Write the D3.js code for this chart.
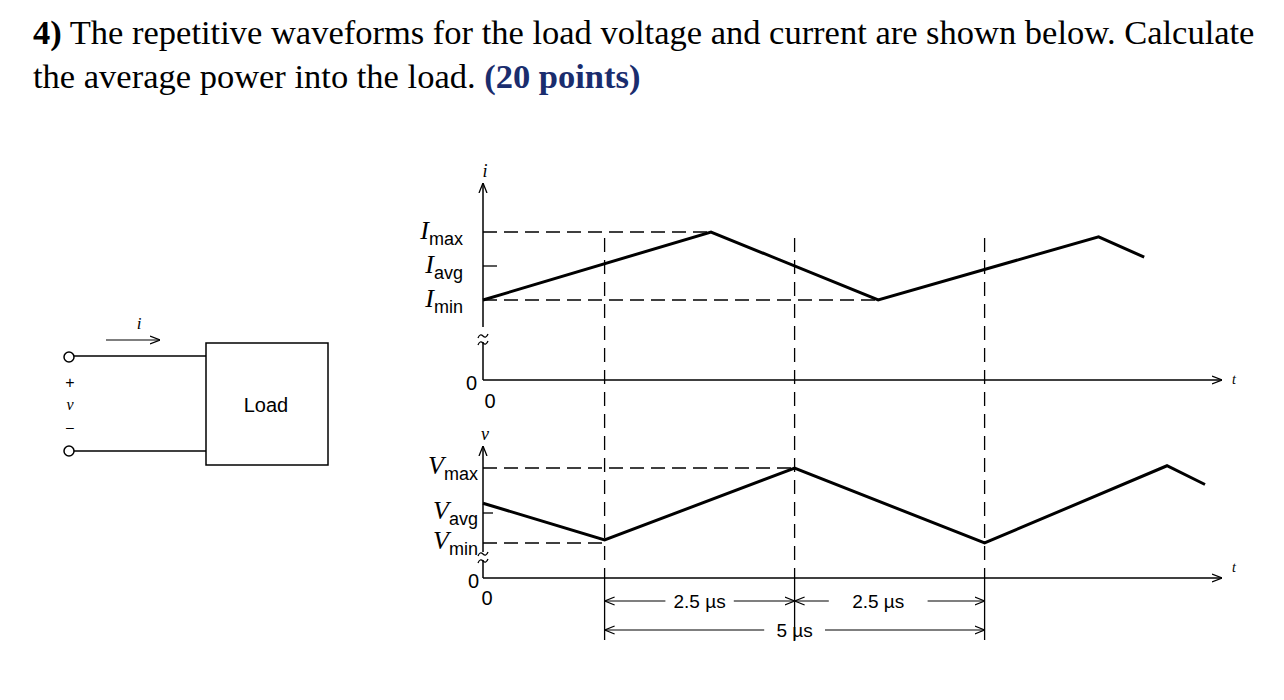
<!DOCTYPE html><html><head><meta charset="utf-8"><script src="https://cdn.jsdelivr.net/npm/d3@7"></script>
<style>body{margin:0;background:#fff}</style></head><body><svg id="c" width="1284" height="700"></svg>
<script>
const currentT=[0,3.0,5.2,8.1,8.7];
const currentV=[0,1,0,0.93,0.63];
const voltageT=[0,1.6,4.1,6.6,9.0,9.5];
const voltageV=[0.53,0.04,1,0,1.03,0.78];
const dashT=[1.6,4.1,6.6];
const iLabels=["max","avg","min"], iLevels=[1,0.5,0];
const vLabels=["max","avg","min"], vLevels=[1,0.4,0];
const svg=d3.select("#c");
const serif="Liberation Serif, Times New Roman, serif", sans="Liberation Sans, Arial, sans-serif";
const t1=svg.append("text").attr("x",33).attr("y",44).attr("font-family",serif).attr("font-size",34.5);
t1.append("tspan").attr("font-weight","bold").text("4)");
t1.append("tspan").text(" The repetitive waveforms for the load voltage and current are shown below. Calculate");
const t2=svg.append("text").attr("x",33).attr("y",88).attr("font-family",serif).attr("font-size",34.5);
t2.append("tspan").text("the average power into the load. ");
t2.append("tspan").attr("font-weight","bold").attr("fill","#1a2d6e").text("(20 points)");
svg.append("defs").append("marker").attr("id","ar").attr("viewBox","0 0 10 10").attr("refX",10).attr("refY",5)
 .attr("markerWidth",10).attr("markerHeight",10).attr("markerUnits","userSpaceOnUse").attr("orient","auto-start-reverse")
 .append("path").attr("d","M0,1L10,5L0,9").attr("fill","none").attr("stroke","#000").attr("stroke-width",1.3);
const L=(x1,y1,x2,y2,o={})=>svg.append("line").attr("x1",x1).attr("y1",y1).attr("x2",x2).attr("y2",y2)
 .attr("stroke","#000").attr("stroke-width",o.w||1.5).attr("stroke-dasharray",o.d||null)
 .attr("marker-end",o.me?"url(#ar)":null).attr("marker-start",o.ms?"url(#ar)":null);
const T=(x,y,s,o={})=>svg.append("text").attr("x",x).attr("y",y).attr("font-family",o.f||sans).attr("font-size",o.s||20)
 .attr("font-style",o.i?"italic":null).attr("text-anchor",o.a||"start").text(s);
svg.append("rect").attr("x",206).attr("y",343).attr("width",122).attr("height",122).attr("fill","none").attr("stroke","#000").attr("stroke-width",1.5);
L(74,356,206,356);L(74,451,206,451);
svg.append("circle").attr("cx",69).attr("cy",357).attr("r",5).attr("fill","#fff").attr("stroke","#000").attr("stroke-width",1.5);
svg.append("circle").attr("cx",69).attr("cy",451).attr("r",5).attr("fill","#fff").attr("stroke","#000").attr("stroke-width",1.5);
T(70,388,"+",{s:16,a:"middle"});T(70,410,"v",{f:serif,i:1,s:16,a:"middle"});T(70,432,"–",{s:14,a:"middle"});
T(139,329,"i",{f:serif,i:1,s:17,a:"middle"});L(106,340,160,340,{w:1.2,me:1});
T(266,412,"Load",{s:20,a:"middle"});
const x=d3.scaleLinear().domain([0,1]).range([483,559]);
const yi=d3.scaleLinear().domain([0,1]).range([300,232]);
const yv=d3.scaleLinear().domain([0,1]).range([543,468]);
const ln=d3.line();
L(x(0),380,1222,380,{w:1.5,me:1});L(x(0),380,x(0),342);L(x(0),327,x(0),183,{me:1});
svg.append("path").attr("d",`M${x(0)-5},338 q2,-5 5,-2 q3,3 5,-2 M${x(0)-5},345 q2,-5 5,-2 q3,3 5,-2`).attr("fill","none").attr("stroke","#000").attr("stroke-width",1.3);
T(x(0)+2,177,"i",{f:serif,i:1,s:18,a:"middle"});
T(x(0)-6,390,"0",{s:20,a:"end"});T(x(0)+7,408,"0",{s:20,a:"middle"});T(1232,384,"t",{f:serif,i:1,s:14});
iLevels.forEach((v,k)=>{
 T(x(0)-20,yi(v)+7,"",{}).call(s=>{s.attr("text-anchor","end");s.append("tspan").attr("font-family",serif).attr("font-style","italic").attr("font-size",26).text("I");s.append("tspan").attr("font-size",18).attr("dy",6).text(iLabels[k]);});
});
L(x(0),yi(1),x(3.0),yi(1),{w:1.3,d:"14,7"});L(x(0),yi(0),x(5.2),yi(0),{w:1.3,d:"14,7"});L(x(0),yi(0.5),x(0)+14,yi(0.5),{w:1.3});
svg.append("path").attr("d",ln(currentT.map((t,i)=>[x(t),yi(currentV[i])]))).attr("fill","none").attr("stroke","#000").attr("stroke-width",3);
L(x(0),578,1222,578,{me:1});L(x(0),578,x(0),560);L(x(0),552,x(0),446,{me:1});
svg.append("path").attr("d",`M${x(0)-5},556 q2,-5 5,-2 q3,3 5,-2 M${x(0)-5},563 q2,-5 5,-2 q3,3 5,-2`).attr("fill","none").attr("stroke","#000").attr("stroke-width",1.3);
T(x(0)+2,440,"v",{f:serif,i:1,s:18,a:"middle"});
T(x(0)-4,588,"0",{s:20,a:"end"});T(x(0)+4,605,"0",{s:20,a:"middle"});T(1232,572,"t",{f:serif,i:1,s:14});
vLevels.forEach((v,k)=>{
 T(x(0)-5,yv(v)+6,"",{}).call(s=>{s.attr("text-anchor","end");s.append("tspan").attr("font-family",serif).attr("font-style","italic").attr("font-size",26).text("V");s.append("tspan").attr("font-size",18).attr("dy",6).text(vLabels[k]);});
});
L(x(0),yv(1),x(4.1),yv(1),{w:1.3,d:"14,7"});L(x(0),yv(0),x(1.6),yv(0),{w:1.3,d:"14,7"});L(x(0),yv(0.4),x(0)+10,yv(0.4),{w:1.3});
svg.append("path").attr("d",ln(voltageT.map((t,i)=>[x(t),yv(voltageV[i])]))).attr("fill","none").attr("stroke","#000").attr("stroke-width",3);
dashT.forEach(t=>L(x(t),238,x(t),578,{w:1.3,d:"14,8"}));
dashT.forEach(t=>L(x(t),578,x(t),640,{w:1.3}));
L(x(1.6),601,x(2.4),601,{w:1.2,ms:1});L(x(3.3),601,x(4.1),601,{w:1.2,me:1});T(x(2.85),608,"2.5 µs",{s:19,a:"middle"});
L(x(4.1),601,x(4.55),601,{w:1.2,ms:1});L(x(5.85),601,x(6.6),601,{w:1.2,me:1});T(x(5.2),608,"2.5 µs",{s:19,a:"middle"});
L(x(1.6),630,x(3.7),630,{w:1.2,ms:1});L(x(4.5),630,x(6.6),630,{w:1.2,me:1});T(x(4.1),637,"5 µs",{s:19,a:"middle"});
</script></body></html>
